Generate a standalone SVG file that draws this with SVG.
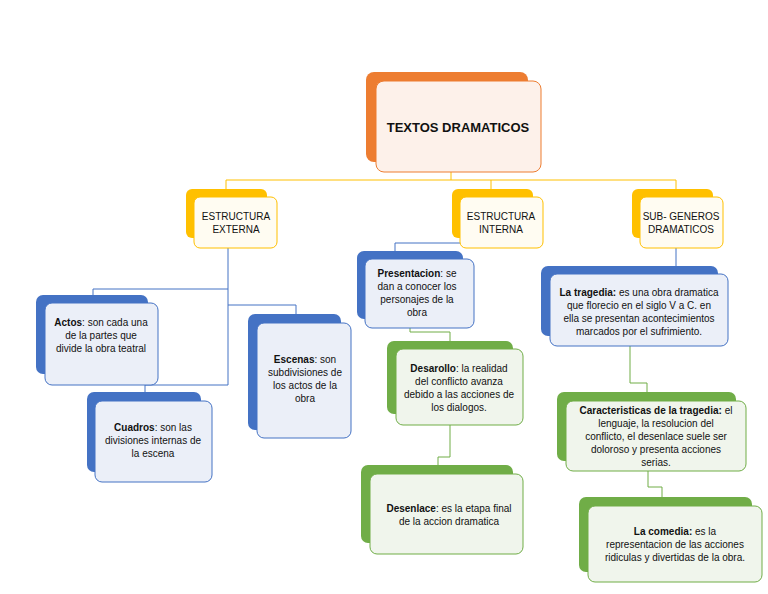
<svg xmlns="http://www.w3.org/2000/svg" width="768" height="594" viewBox="0 0 768 594">
<style>
text{font-family:"Liberation Sans",Arial,sans-serif;font-size:10px;fill:#111;text-anchor:middle}
b,.b{font-weight:bold}
.c{fill:none;stroke-width:1}
.cy{stroke:#FFC000}.cb{stroke:#4472C4}.cg{stroke:#70AD47}
.ob{fill:#ED7D31}.of{fill:#FDF1EA;stroke:#ED7D31}
.yb{fill:#FFC000}.yf{fill:#FFFCF2;stroke:#FFC000}
.bb{fill:#4472C4}.bf{fill:#EBEFF8;stroke:#4472C4}
.gb{fill:#70AD47}.gf{fill:#F0F5EC;stroke:#70AD47}
</style>
<rect width="768" height="594" fill="#fff"/>
<g id="connectors">
<path class="c cy" d="M451 172V180M226 192V180H676V192M491 180V192"/>
<path class="c cb" d="M228 248V385M228 289H93V296M228 305H296V315M228 385H145V392"/>
<path class="c cb" d="M470 243H395V251M676 248V266"/>
<path class="c cg" d="M410 328V332H450V341M450 425V457H438V465M630 346V383H647V392M648 471V487H662V497"/>
</g>
<g id="n-textos"><rect class="ob" x="366" y="72" width="162" height="90" rx="8"/><rect class="of" x="376" y="81" width="165" height="91" rx="8"/><text x="458" y="132" class="b" style="font-size:13px">TEXTOS DRAMATICOS</text></g>
<g id="n-externa"><rect class="yb" x="186" y="189" width="81" height="49" rx="6"/><rect class="yf" x="194" y="197" width="83" height="51" rx="6"/><text x="236" y="220">ESTRUCTURA</text><text x="236" y="233">EXTERNA</text></g>
<g id="n-interna"><rect class="yb" x="452" y="189" width="81" height="49" rx="6"/><rect class="yf" x="460" y="197" width="83" height="51" rx="6"/><text x="501" y="220">ESTRUCTURA</text><text x="501" y="233">INTERNA</text></g>
<g id="n-sub"><rect class="yb" x="632" y="189" width="81" height="49" rx="6"/><rect class="yf" x="640" y="197" width="83" height="51" rx="6"/><text x="681" y="220">SUB- GENEROS</text><text x="681" y="233">DRAMATICOS</text></g>
<g id="n-actos"><rect class="bb" x="36" y="295" width="112" height="79" rx="7"/><rect class="bf" x="45" y="303" width="113" height="82" rx="7"/><text x="101" y="326"><tspan class="b">Actos</tspan>: son cada una</text><text x="101" y="339">de la partes que</text><text x="101" y="352">divide la obra teatral</text></g>
<g id="n-cuadros"><rect class="bb" x="87" y="392" width="114" height="80" rx="7"/><rect class="bf" x="95" y="401" width="117" height="81" rx="7"/><text x="153" y="431"><tspan class="b">Cuadros</tspan>: son las</text><text x="153" y="444">divisiones internas de</text><text x="153" y="457">la escena</text></g>
<g id="n-escenas"><rect class="bb" x="248" y="314" width="93" height="116" rx="7"/><rect class="bf" x="257" y="323" width="94" height="115" rx="7"/><text x="305" y="363"><tspan class="b">Escenas</tspan>: son</text><text x="305" y="376">subdivisiones de</text><text x="305" y="389">los actos de la</text><text x="305" y="402">obra</text></g>
<g id="n-presentacion"><rect class="bb" x="357" y="251" width="106" height="68" rx="7"/><rect class="bf" x="365" y="259" width="109" height="69" rx="7"/><text x="417" y="277"><tspan class="b">Presentacion</tspan>: se</text><text x="417" y="290">dan a conocer los</text><text x="417" y="303">personajes de la</text><text x="417" y="316">obra</text></g>
<g id="n-desarollo"><rect class="gb" x="387" y="341" width="126" height="73" rx="7"/><rect class="gf" x="396" y="349" width="127" height="76" rx="7"/><text x="459" y="372"><tspan class="b">Desarollo</tspan>: la realidad</text><text x="459" y="385">del conflicto avanza</text><text x="459" y="398">debido a las acciones de</text><text x="459" y="411">los dialogos.</text></g>
<g id="n-desenlace"><rect class="gb" x="361" y="465" width="152" height="78" rx="7"/><rect class="gf" x="370" y="474" width="153" height="80" rx="7"/><text x="449" y="512"><tspan class="b">Desenlace</tspan>: es la etapa final</text><text x="449" y="525">de la accion dramatica</text></g>
<g id="n-tragedia"><rect class="bb" x="541" y="266" width="177" height="70" rx="7"/><rect class="bf" x="550" y="274" width="178" height="72" rx="7"/><text x="639" y="296"><tspan class="b">La tragedia:</tspan> es una obra dramatica</text><text x="639" y="309">que florecio en el siglo V a C. en</text><text x="639" y="322">ella se presentan acontecimientos</text><text x="639" y="335">marcados por el sufrimiento.</text></g>
<g id="n-caracteristicas"><rect class="gb" x="557" y="392" width="179" height="69" rx="7"/><rect class="gf" x="566" y="401" width="180" height="70" rx="7"/><text x="656" y="414"><tspan class="b">Caracteristicas de la tragedia:</tspan> el</text><text x="656" y="427">lenguaje, la resolucion del</text><text x="656" y="440">conflicto, el desenlace suele ser</text><text x="656" y="453">doloroso y presenta acciones</text><text x="656" y="466">serias.</text></g>
<g id="n-comedia"><rect class="gb" x="579" y="497" width="173" height="75" rx="7"/><rect class="gf" x="588" y="506" width="174" height="76" rx="7"/><text x="675" y="535"><tspan class="b">La comedia:</tspan> es la</text><text x="675" y="548">representacion de las acciones</text><text x="675" y="561">ridiculas y divertidas de la obra.</text></g>
</svg>
